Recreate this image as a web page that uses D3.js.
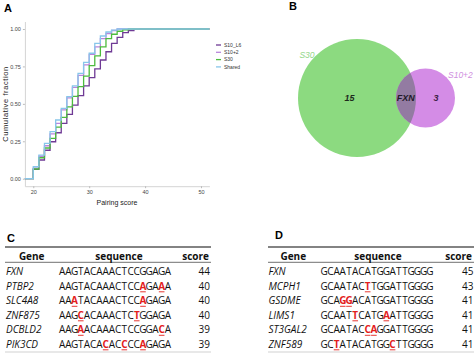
<!DOCTYPE html>
<html>
<head>
<meta charset="utf-8">
<script src="https://cdn.jsdelivr.net/npm/d3@7"></script>
<style>
  body { margin: 0; background: #fff; }
  svg { display: block; }
</style>
</head>
<body>
<div id="fig"></div>
<script>
// ---- data ----
const scores = [20, 21, 22, 23, 24, 25, 26, 27, 28, 29, 30, 31, 32, 33, 34, 35, 36, 37, 38, 39];
const seriesNames = ["S10_L6", "S10+2", "S30", "Shared"];
const seriesColors = ["#6f3a95", "#b984dc", "#4cbb3d", "#88c6ea"];
const ecdfS10L6 = [0.063, 0.125, 0.19, 0.247, 0.307, 0.37, 0.43, 0.492, 0.555, 0.62, 0.675, 0.733, 0.793, 0.848, 0.904, 0.944, 0.976, 0.99, 0.997, 1.0];
const ecdfS10p2 = [0.07, 0.15, 0.22, 0.30, 0.37, 0.46, 0.54, 0.61, 0.69, 0.76, 0.83, 0.88, 0.935, 0.97, 0.99, 1.0, 1.0, 1.0, 1.0, 1.0];
const ecdfS30 = [0.065, 0.14, 0.205, 0.27, 0.345, 0.41, 0.48, 0.55, 0.615, 0.685, 0.755, 0.82, 0.88, 0.935, 0.965, 0.985, 0.995, 1.0, 1.0, 1.0];
const ecdfShared = [0.08, 0.158, 0.236, 0.314, 0.392, 0.47, 0.548, 0.62, 0.704, 0.777, 0.838, 0.904, 0.953, 0.98, 0.993, 1.0, 1.0, 1.0, 1.0, 1.0];
const xTicks = [20, 30, 40, 50];
const yTicks = [0, 0.25, 0.5, 0.75, 1];

const vennNames = ["S30", "S10+2"];
const vennOnly = [15, 3];
const vennShared = ["FXN"];

const tableCGenes = ["FXN", "PTBP2", "SLC4A8", "ZNF875", "DCBLD2", "PIK3CD"];
const tableCSeqs = ["AAGTACAAACTCCGGAGA", "AAGTACAAACTCCAGAAA", "AAATACAAACTCCAGAGA", "AAGCACAAACTCTGGAGA", "AAGAACAAACTCCGGACA", "AAGTACACACCCCAGAGA"];
const tableCScores = [44, 40, 40, 40, 39, 39];
const tableDGenes = ["FXN", "MCPH1", "GSDME", "LIMS1", "ST3GAL2", "ZNF589"];
const tableDSeqs = ["GCAATACATGGATTGGGG", "GCAATACTTGGATTGGGG", "GCAGGACATGGATTGGGG", "GCAATTCATGAATTGGGG", "GCAATACCAGGATTGGGG", "GCTATACATGGCTTGGGG"];
const tableDScores = [45, 43, 41, 41, 41, 41];

const W = 474, H = 353;
const svg = d3.select("#fig").append("svg").attr("width", W).attr("height", H);
const sans = "Liberation Sans, Arial, sans-serif";

// ---- panel A : ecdf ----
const series = [ecdfS10L6, ecdfS10p2, ecdfS30, ecdfShared];
const x = d3.scaleLinear().domain([18.5, 51.5]).range([24.9, 209.4]);
const y = d3.scaleLinear().domain([-0.05, 1.05]).range([186.2, 21.5]);

const gA = svg.append("g").attr("font-family", sans);

const yAxis = gA.append("g").attr("transform", `translate(${x.range()[0]},0)`)
  .call(d3.axisLeft(y).tickValues(yTicks).tickFormat(d3.format(".2f")).tickSize(2).tickSizeOuter(0).tickPadding(2));
const xAxis = gA.append("g").attr("transform", `translate(0,${y.range()[0]})`)
  .call(d3.axisBottom(x).tickValues(xTicks).tickSize(2).tickSizeOuter(0).tickPadding(2));
[yAxis, xAxis].forEach(a => {
  a.select(".domain").attr("stroke", "#d4d4d4");
  a.selectAll(".tick line").attr("stroke", "#bbb");
  a.selectAll(".tick text").attr("fill", "#444").attr("font-size", 5.5).attr("font-family", sans);
});

const line = d3.line().x(d => x(d[0])).y(d => y(d[1])).curve(d3.curveStepAfter);
series.forEach((vals, i) => {
  const pts = [[x.domain()[0], 0]].concat(scores.map((s, j) => [s, vals[j]]), [[x.domain()[1], 1]]);
  gA.append("path").datum(pts)
    .attr("fill", "none").attr("stroke", seriesColors[i]).attr("stroke-width", 1.3)
    .attr("d", line);
});

gA.append("text").attr("x", 117).attr("y", 204.5).attr("text-anchor", "middle")
  .attr("font-size", 7).attr("fill", "#222").text("Pairing score");
gA.append("text").attr("transform", "translate(7.5,104) rotate(-90)").attr("text-anchor", "middle")
  .attr("font-size", 7.5).attr("letter-spacing", 0.6).attr("fill", "#222").text("Cumulative fraction");

const leg = gA.append("g").attr("transform", "translate(216,45)");
seriesNames.forEach((n, i) => {
  const row = leg.append("g").attr("transform", `translate(0,${i * 7.3})`);
  row.append("line").attr("x1", 0).attr("x2", 5).attr("stroke", seriesColors[i]).attr("stroke-width", 1.3);
  row.append("text").attr("x", 8).attr("y", 1.8).attr("font-size", 5).attr("fill", "#333").text(n);
});

svg.append("text").attr("x", 4).attr("y", 11.7).attr("font-family", sans).attr("font-weight", "bold")
  .attr("font-size", 11).text("A");

// ---- panel B : venn ----
const totals = [vennOnly[0] + vennShared.length, vennOnly[1] + vennShared.length];
const r = d3.scaleSqrt().domain([0, d3.max(totals)]).range([0, 59]);
const cy = 98;
const c1 = { x: 357, r: r(totals[0]) };
const c2 = { x: 357 + 68.5, r: r(totals[1]) };

const defs = svg.append("defs");
defs.append("clipPath").attr("id", "clip-green")
  .append("circle").attr("cx", c1.x).attr("cy", cy).attr("r", c1.r);

svg.append("circle").attr("cx", c1.x).attr("cy", cy).attr("r", c1.r).attr("fill", "#8cda80");
svg.append("circle").attr("cx", c2.x).attr("cy", cy).attr("r", c2.r).attr("fill", "#d48ce6");
svg.append("circle").attr("cx", c2.x).attr("cy", cy).attr("r", c2.r).attr("fill", "#937ba2")
  .attr("clip-path", "url(#clip-green)");

const vb = svg.append("g").attr("font-family", sans).attr("font-style", "italic");
vb.append("text").attr("x", 307).attr("y", 57.5).attr("text-anchor", "middle").attr("font-size", 8.5)
  .attr("fill", "#94d68a").text(vennNames[0]);
vb.append("text").attr("x", 448).attr("y", 77.5).attr("font-size", 8.5)
  .attr("fill", "#d08fe0").text(vennNames[1]);
vb.append("text").attr("x", 349.5).attr("y", 100.5).attr("text-anchor", "middle").attr("font-size", 9)
  .attr("font-weight", "bold").attr("fill", "#1e2a1c").text(vennOnly[0]);
vb.append("text").attr("x", 405.7).attr("y", 100.5).attr("text-anchor", "middle").attr("font-size", 9)
  .attr("font-weight", "bold").attr("fill", "#241a2a").text(vennShared[0]);
vb.append("text").attr("x", 436).attr("y", 100.5).attr("text-anchor", "middle").attr("font-size", 9)
  .attr("font-weight", "bold").attr("fill", "#3d2147").text(vennOnly[1]);

svg.append("text").attr("x", 289).attr("y", 10.2).attr("font-family", sans).attr("font-weight", "bold")
  .attr("font-size", 11).text("B");

// ---- panels C, D : tables ----
const tfont = "Open Sans, Lato, sans-serif";
function drawTable(opts) {
  const g = svg.append("g").attr("font-family", tfont).attr("font-size", 10).attr("fill", "#111");
  const ref = opts.seqs[0];
  g.append("line").attr("x1", opts.x0).attr("x2", opts.x1).attr("y1", 247).attr("y2", 247)
    .attr("stroke", "#5a5a5a").attr("stroke-width", 1.6);
  g.append("line").attr("x1", opts.x0).attr("x2", opts.x1).attr("y1", 262.3).attr("y2", 262.3)
    .attr("stroke", "#333").attr("stroke-width", 0.7);
  const hdr = g.append("g").attr("font-weight", "bold");
  hdr.append("text").attr("x", opts.geneHdr).attr("y", 259.8).attr("text-anchor", "middle").text("Gene");
  hdr.append("text").attr("x", opts.seqHdr).attr("y", 259.8).attr("text-anchor", "middle").text("sequence");
  hdr.append("text").attr("x", opts.scoreHdr).attr("y", 259.8).attr("text-anchor", "end").text("score");

  const rowY = d3.scaleLinear().domain([0, 1]).range([275.3, 289.8]);
  const charX = d3.scaleBand().domain(d3.range(ref.length)).range([opts.seqX, opts.seqX + 112]);
  opts.genes.forEach((gene, i) => {
    const yy = rowY(i);
    g.append("text").attr("x", opts.geneX).attr("y", yy).attr("font-style", "italic").text(gene);
    g.append("text").attr("x", opts.scoreX).attr("y", yy).attr("text-anchor", "end").text(opts.scores[i]);
    const seq = opts.seqs[i];
    const chars = g.append("g");
    seq.split("").forEach((c, k) => {
      const cx = charX(k) + charX.bandwidth() / 2;
      const mis = c !== ref[k];
      const t = chars.append("text").attr("x", cx).attr("y", yy).attr("text-anchor", "middle").text(c);
      if (mis) {
        t.attr("fill", "#e3201b").attr("font-weight", "bold");
        chars.append("line").attr("x1", charX(k) + 0.3).attr("x2", charX(k) + charX.bandwidth() - 0.3)
          .attr("y1", yy + 2).attr("y2", yy + 2).attr("stroke", "#e3201b").attr("stroke-width", 0.9);
      }
    });
  });
  g.append("rect").attr("x", opts.x0).attr("y", 351).attr("width", opts.x1 - opts.x0).attr("height", 2)
    .attr("fill", "#e8e8e8");
  svg.append("text").attr("x", opts.labX).attr("y", opts.labY).attr("font-family", sans)
    .attr("font-weight", "bold").attr("font-size", 11).text(opts.label);
}

drawTable({ label: "C", labX: 7, labY: 242.3, x0: 5, x1: 211, geneX: 6, seqX: 59, scoreX: 210,
  geneHdr: 31.7, seqHdr: 119, scoreHdr: 209, genes: tableCGenes, seqs: tableCSeqs, scores: tableCScores });
drawTable({ label: "D", labX: 275, labY: 238.5, x0: 268, x1: 474, geneX: 268.5, seqX: 321, scoreX: 473.5,
  geneHdr: 293.3, seqHdr: 378, scoreHdr: 472, genes: tableDGenes, seqs: tableDSeqs, scores: tableDScores });
</script>
</body>
</html>
